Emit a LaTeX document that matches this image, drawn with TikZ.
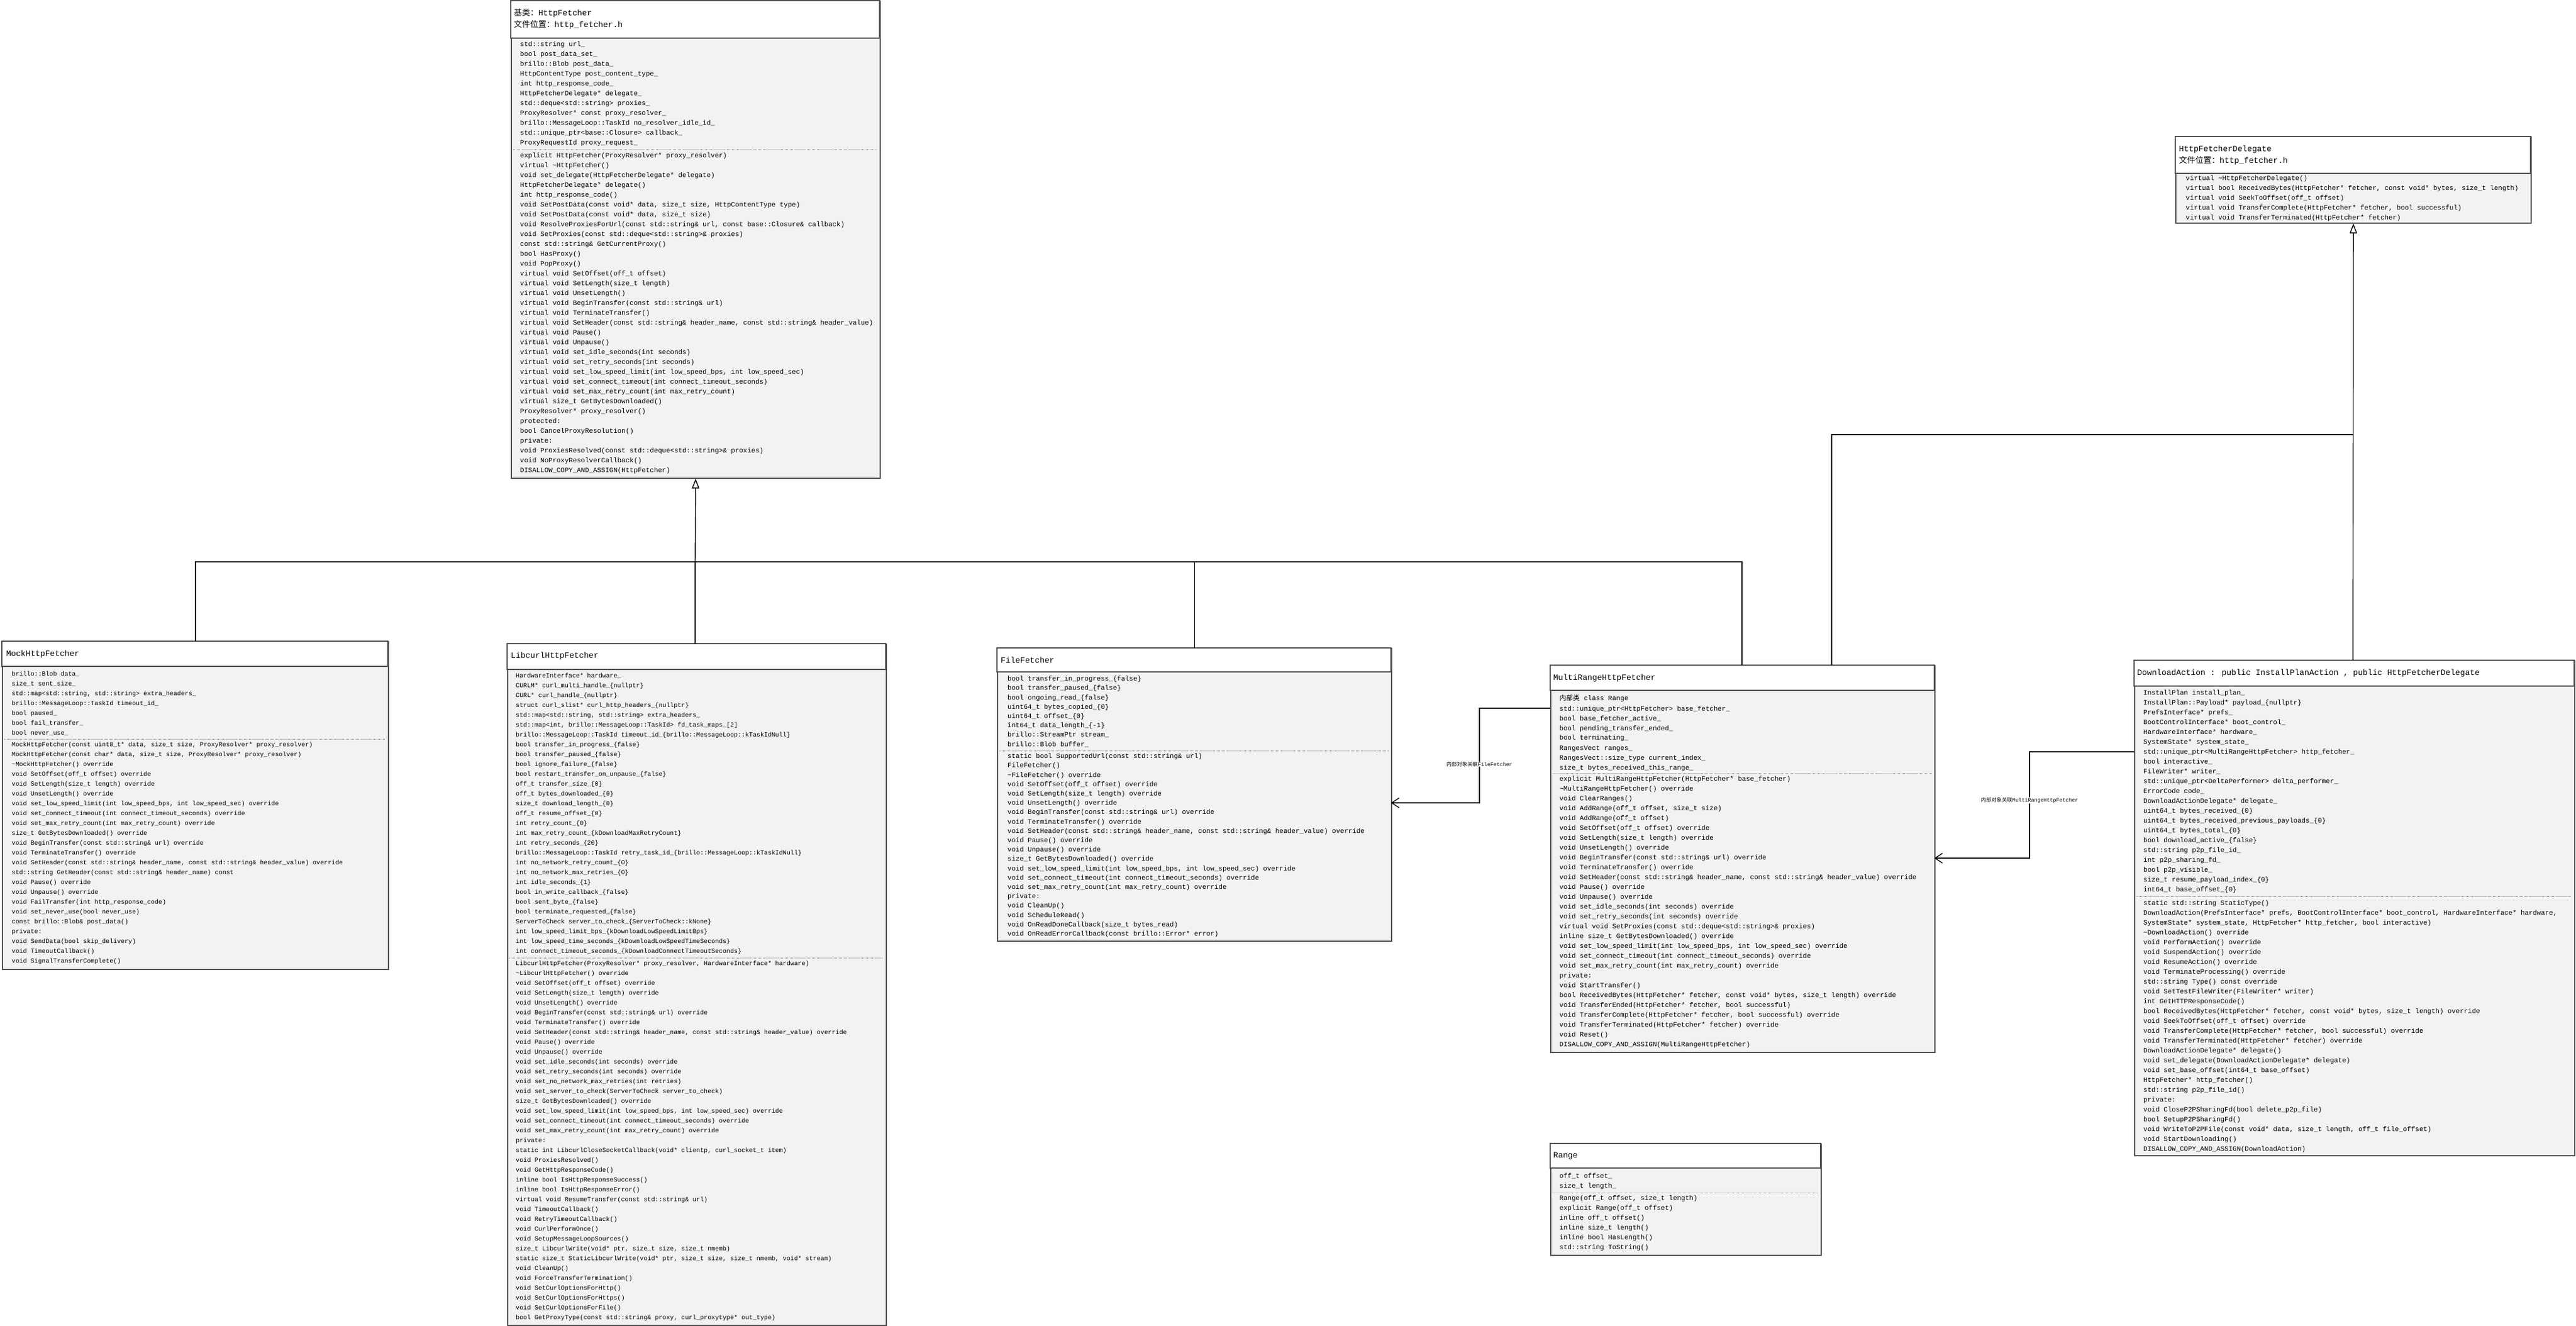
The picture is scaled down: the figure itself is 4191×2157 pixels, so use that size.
\documentclass[tikz,border=0pt]{standalone}
\usepackage{fontspec}
\setmainfont{Liberation Mono}
\newfontfamily\cjk{Noto Sans CJK SC}
\usetikzlibrary{arrows.meta}
\definecolor{boxgrey}{HTML}{F2F2F2}
\definecolor{edge}{HTML}{505050}
\newcommand\zh[1]{{\cjk #1}}
\newcommand\tl{\textasciitilde}
\begin{document}
\catcode`\_=12
\begin{tikzpicture}[x=1pt,y=-1pt,
  boxst/.style={draw=edge,line width=1.6pt,fill=boxgrey,anchor=north west,inner sep=0pt},
  hdr/.style={draw=edge,line width=1.6pt,fill=white},
  sepst/.style={draw=gray,line width=1pt,dash pattern=on 1pt off 1pt},
  txt/.style={anchor=north west,inner sep=0pt,align=left,font=\fontsize{11}{16}\selectfont},
  txtn/.style={anchor=north west,inner sep=0pt,align=left,font=\fontsize{10.2}{16}\selectfont},
  ttl/.style={anchor=west,inner sep=0pt,align=left,font=\fontsize{13.2}{19}\selectfont},
  conn/.style={draw=black,line width=1.4pt},
  inh/.style={conn,-{Triangle[open,length=16pt,width=12pt]}},
  assoc/.style={conn,-{Straight Barb[length=12pt,width=16pt]}},
  lbl/.style={fill=white,inner sep=0.5pt,font=\fontsize{8.5}{10}\selectfont}]
\useasboundingbox (0,0) rectangle (4191,2157);
\fill[white] (0,0) rectangle (4191,2157);

% ---------- HttpFetcher
\node[boxst,minimum width=600pt,minimum height=776pt] (hf) at (831,1) {};
\draw[hdr] (831,1) rectangle (1431,62);
\draw[sepst] (835,243) -- (1427,243);
\node[ttl] (hft) at (836,31) {\zh{基类：}HttpFetcher\\\zh{文件位置：}http_fetcher.h};
\node[txt] (hfa) at (846,67.5) {std::string url_\\bool post_data_set_\\brillo::Blob post_data_\\HttpContentType post_content_type_\\int http_response_code_\\HttpFetcherDelegate* delegate_\\std::deque<std::string> proxies_\\ProxyResolver* const proxy_resolver_\\brillo::MessageLoop::TaskId no_resolver_idle_id_\\std::unique_ptr<base::Closure> callback_\\ProxyRequestId proxy_request_};
\node[txt] (hfm) at (846,248.5) {explicit HttpFetcher(ProxyResolver* proxy_resolver)\\virtual \tl HttpFetcher()\\void set_delegate(HttpFetcherDelegate* delegate)\\HttpFetcherDelegate* delegate()\\int http_response_code()\\void SetPostData(const void* data, size_t size, HttpContentType type)\\void SetPostData(const void* data, size_t size)\\void ResolveProxiesForUrl(const std::string\& url, const base::Closure\& callback)\\void SetProxies(const std::deque<std::string>\& proxies)\\const std::string\& GetCurrentProxy()\\bool HasProxy()\\void PopProxy()\\virtual void SetOffset(off_t offset)\\virtual void SetLength(size_t length)\\virtual void UnsetLength()\\virtual void BeginTransfer(const std::string\& url)\\virtual void TerminateTransfer()\\virtual void SetHeader(const std::string\& header_name, const std::string\& header_value)\\virtual void Pause()\\virtual void Unpause()\\virtual void set_idle_seconds(int seconds)\\virtual void set_retry_seconds(int seconds)\\virtual void set_low_speed_limit(int low_speed_bps, int low_speed_sec)\\virtual void set_connect_timeout(int connect_timeout_seconds)\\virtual void set_max_retry_count(int max_retry_count)\\virtual size_t GetBytesDownloaded()\\ProxyResolver* proxy_resolver()\\protected:\\bool CancelProxyResolution()\\private:\\void ProxiesResolved(const std::deque<std::string>\& proxies)\\void NoProxyResolverCallback()\\DISALLOW_COPY_AND_ASSIGN(HttpFetcher)};

% ---------- HttpFetcherDelegate
\node[boxst,minimum width=578pt,minimum height=140pt] (dg) at (3539,222) {};
\draw[hdr] (3539,222) rectangle (4117,282);
\node[ttl] (dgt) at (3545,253) {HttpFetcherDelegate\\\zh{文件位置：}http_fetcher.h};
\node[txt] (dgm) at (3556,285.5) {virtual \tl HttpFetcherDelegate()\\virtual bool ReceivedBytes(HttpFetcher* fetcher, const void* bytes, size_t length)\\virtual void SeekToOffset(off_t offset)\\virtual void TransferComplete(HttpFetcher* fetcher, bool successful)\\virtual void TransferTerminated(HttpFetcher* fetcher)};

% ---------- MockHttpFetcher
\node[boxst,minimum width=628pt,minimum height=533pt] (mock) at (3,1043) {};
\draw[hdr] (3,1043) rectangle (631,1084);
\draw[sepst] (7,1202) -- (627,1202);
\node[ttl] (mockt) at (10,1064) {MockHttpFetcher};
\node[txtn] (mocka) at (19,1091.5) {brillo::Blob data_\\size_t sent_size_\\std::map<std::string, std::string> extra_headers_\\brillo::MessageLoop::TaskId timeout_id_\\bool paused_\\bool fail_transfer_\\bool never_use_};
\node[txtn] (mockm) at (19,1206.5) {MockHttpFetcher(const uint8_t* data, size_t size, ProxyResolver* proxy_resolver)\\MockHttpFetcher(const char* data, size_t size, ProxyResolver* proxy_resolver)\\\tl MockHttpFetcher() override\\void SetOffset(off_t offset) override\\void SetLength(size_t length) override\\void UnsetLength() override\\void set_low_speed_limit(int low_speed_bps, int low_speed_sec) override\\void set_connect_timeout(int connect_timeout_seconds) override\\void set_max_retry_count(int max_retry_count) override\\size_t GetBytesDownloaded() override\\void BeginTransfer(const std::string\& url) override\\void TerminateTransfer() override\\void SetHeader(const std::string\& header_name, const std::string\& header_value) override\\std::string GetHeader(const std::string\& header_name) const\\void Pause() override\\void Unpause() override\\void FailTransfer(int http_response_code)\\void set_never_use(bool never_use)\\const brillo::Blob\& post_data()\\private:\\void SendData(bool skip_delivery)\\void TimeoutCallback()\\void SignalTransferComplete()};

% ---------- LibcurlHttpFetcher
\node[boxst,minimum width=616pt,minimum height=1108pt] (lc) at (825,1047) {};
\draw[hdr] (825,1047) rectangle (1441,1089);
\draw[sepst] (829,1558) -- (1437,1558);
\node[ttl] (lct) at (831,1067) {LibcurlHttpFetcher};
\node[txtn] (lca) at (839,1094.5) {HardwareInterface* hardware_\\CURLM* curl_multi_handle_\{nullptr\}\\CURL* curl_handle_\{nullptr\}\\struct curl_slist* curl_http_headers_\{nullptr\}\\std::map<std::string, std::string> extra_headers_\\std::map<int, brillo::MessageLoop::TaskId> fd_task_maps_[2]\\brillo::MessageLoop::TaskId timeout_id_\{brillo::MessageLoop::kTaskIdNull\}\\bool transfer_in_progress_\{false\}\\bool transfer_paused_\{false\}\\bool ignore_failure_\{false\}\\bool restart_transfer_on_unpause_\{false\}\\off_t transfer_size_\{0\}\\off_t bytes_downloaded_\{0\}\\size_t download_length_\{0\}\\off_t resume_offset_\{0\}\\int retry_count_\{0\}\\int max_retry_count_\{kDownloadMaxRetryCount\}\\int retry_seconds_\{20\}\\brillo::MessageLoop::TaskId retry_task_id_\{brillo::MessageLoop::kTaskIdNull\}\\int no_network_retry_count_\{0\}\\int no_network_max_retries_\{0\}\\int idle_seconds_\{1\}\\bool in_write_callback_\{false\}\\bool sent_byte_\{false\}\\bool terminate_requested_\{false\}\\ServerToCheck server_to_check_\{ServerToCheck::kNone\}\\int low_speed_limit_bps_\{kDownloadLowSpeedLimitBps\}\\int low_speed_time_seconds_\{kDownloadLowSpeedTimeSeconds\}\\int connect_timeout_seconds_\{kDownloadConnectTimeoutSeconds\}};
\node[txtn] (lcm) at (839,1562.5) {LibcurlHttpFetcher(ProxyResolver* proxy_resolver, HardwareInterface* hardware)\\\tl LibcurlHttpFetcher() override\\void SetOffset(off_t offset) override\\void SetLength(size_t length) override\\void UnsetLength() override\\void BeginTransfer(const std::string\& url) override\\void TerminateTransfer() override\\void SetHeader(const std::string\& header_name, const std::string\& header_value) override\\void Pause() override\\void Unpause() override\\void set_idle_seconds(int seconds) override\\void set_retry_seconds(int seconds) override\\void set_no_network_max_retries(int retries)\\void set_server_to_check(ServerToCheck server_to_check)\\size_t GetBytesDownloaded() override\\void set_low_speed_limit(int low_speed_bps, int low_speed_sec) override\\void set_connect_timeout(int connect_timeout_seconds) override\\void set_max_retry_count(int max_retry_count) override\\private:\\static int LibcurlCloseSocketCallback(void* clientp, curl_socket_t item)\\void ProxiesResolved()\\void GetHttpResponseCode()\\inline bool IsHttpResponseSuccess()\\inline bool IsHttpResponseError()\\virtual void ResumeTransfer(const std::string\& url)\\void TimeoutCallback()\\void RetryTimeoutCallback()\\void CurlPerformOnce()\\void SetupMessageLoopSources()\\size_t LibcurlWrite(void* ptr, size_t size, size_t nmemb)\\static size_t StaticLibcurlWrite(void* ptr, size_t size, size_t nmemb, void* stream)\\void CleanUp()\\void ForceTransferTermination()\\void SetCurlOptionsForHttp()\\void SetCurlOptionsForHttps()\\void SetCurlOptionsForFile()\\bool GetProxyType(const std::string\& proxy, curl_proxytype* out_type)};

% ---------- FileFetcher
\node[boxst,minimum width=641pt,minimum height=476pt] (ff) at (1622,1054) {};
\draw[hdr] (1622,1054) rectangle (2263,1093);
\draw[sepst] (1626,1221) -- (2259,1221);
\node[ttl] (fft) at (1628,1074) {FileFetcher};
\node[txt,font=\fontsize{11}{15.2}\selectfont] (ffa) at (1639,1099.5) {bool transfer_in_progress_\{false\}\\bool transfer_paused_\{false\}\\bool ongoing_read_\{false\}\\uint64_t bytes_copied_\{0\}\\uint64_t offset_\{0\}\\int64_t data_length_\{-1\}\\brillo::StreamPtr stream_\\brillo::Blob buffer_};
\node[txt,font=\fontsize{11}{15.2}\selectfont] (ffm) at (1639,1225.5) {static bool SupportedUrl(const std::string\& url)\\FileFetcher()\\\tl FileFetcher() override\\void SetOffset(off_t offset) override\\void SetLength(size_t length) override\\void UnsetLength() override\\void BeginTransfer(const std::string\& url) override\\void TerminateTransfer() override\\void SetHeader(const std::string\& header_name, const std::string\& header_value) override\\void Pause() override\\void Unpause() override\\size_t GetBytesDownloaded() override\\void set_low_speed_limit(int low_speed_bps, int low_speed_sec) override\\void set_connect_timeout(int connect_timeout_seconds) override\\void set_max_retry_count(int max_retry_count) override\\private:\\void CleanUp()\\void ScheduleRead()\\void OnReadDoneCallback(size_t bytes_read)\\void OnReadErrorCallback(const brillo::Error* error)};

% ---------- MultiRangeHttpFetcher
\node[boxst,minimum width=625pt,minimum height=629pt] (mr) at (2522,1082) {};
\draw[hdr] (2522,1082) rectangle (3147,1123);
\draw[sepst] (2526,1258) -- (3143,1258);
\node[ttl] (mrt) at (2527,1103) {MultiRangeHttpFetcher};
\node[txt] (mra) at (2537,1130.5) {\zh{内部类} class Range\\std::unique_ptr<HttpFetcher> base_fetcher_\\bool base_fetcher_active_\\bool pending_transfer_ended_\\bool terminating_\\RangesVect ranges_\\RangesVect::size_type current_index_\\size_t bytes_received_this_range_};
\node[txt] (mrm) at (2537,1262.5) {explicit MultiRangeHttpFetcher(HttpFetcher* base_fetcher)\\\tl MultiRangeHttpFetcher() override\\void ClearRanges()\\void AddRange(off_t offset, size_t size)\\void AddRange(off_t offset)\\void SetOffset(off_t offset) override\\void SetLength(size_t length) override\\void UnsetLength() override\\void BeginTransfer(const std::string\& url) override\\void TerminateTransfer() override\\void SetHeader(const std::string\& header_name, const std::string\& header_value) override\\void Pause() override\\void Unpause() override\\void set_idle_seconds(int seconds) override\\void set_retry_seconds(int seconds) override\\virtual void SetProxies(const std::deque<std::string>\& proxies)\\inline size_t GetBytesDownloaded() override\\void set_low_speed_limit(int low_speed_bps, int low_speed_sec) override\\void set_connect_timeout(int connect_timeout_seconds) override\\void set_max_retry_count(int max_retry_count) override\\private:\\void StartTransfer()\\bool ReceivedBytes(HttpFetcher* fetcher, const void* bytes, size_t length) override\\void TransferEnded(HttpFetcher* fetcher, bool successful)\\void TransferComplete(HttpFetcher* fetcher, bool successful) override\\void TransferTerminated(HttpFetcher* fetcher) override\\void Reset()\\DISALLOW_COPY_AND_ASSIGN(MultiRangeHttpFetcher)};

% ---------- Range
\node[boxst,minimum width=440pt,minimum height=181pt] (rg) at (2522,1860) {};
\draw[hdr] (2522,1860) rectangle (2962,1900);
\draw[sepst] (2526,1940) -- (2958,1940);
\node[ttl] (rgt) at (2527,1880) {Range};
\node[txt] (rga) at (2537,1908.5) {off_t offset_\\size_t length_};
\node[txt] (rgm) at (2537,1944.5) {Range(off_t offset, size_t length)\\explicit Range(off_t offset)\\inline off_t offset()\\inline size_t length()\\inline bool HasLength()\\std::string ToString()};

% ---------- DownloadAction
\node[boxst,minimum width=716pt,minimum height=805pt] (da) at (3472,1074) {};
\draw[hdr] (3472,1074) rectangle (4188,1116);
\draw[sepst] (3476,1458) -- (4184,1458);
\node[ttl] (dat) at (3477,1095) {DownloadAction : public InstallPlanAction , public HttpFetcherDelegate};
\node[txt] (daa) at (3487,1122.5) {InstallPlan install_plan_\\InstallPlan::Payload* payload_\{nullptr\}\\PrefsInterface* prefs_\\BootControlInterface* boot_control_\\HardwareInterface* hardware_\\SystemState* system_state_\\std::unique_ptr<MultiRangeHttpFetcher> http_fetcher_\\bool interactive_\\FileWriter* writer_\\std::unique_ptr<DeltaPerformer> delta_performer_\\ErrorCode code_\\DownloadActionDelegate* delegate_\\uint64_t bytes_received_\{0\}\\uint64_t bytes_received_previous_payloads_\{0\}\\uint64_t bytes_total_\{0\}\\bool download_active_\{false\}\\std::string p2p_file_id_\\int p2p_sharing_fd_\\bool p2p_visible_\\size_t resume_payload_index_\{0\}\\int64_t base_offset_\{0\}};
\node[txt] (dam) at (3487,1464.5) {static std::string StaticType()\\DownloadAction(PrefsInterface* prefs, BootControlInterface* boot_control, HardwareInterface* hardware,\\SystemState* system_state, HttpFetcher* http_fetcher, bool interactive)\\\tl DownloadAction() override\\void PerformAction() override\\void SuspendAction() override\\void ResumeAction() override\\void TerminateProcessing() override\\std::string Type() const override\\void SetTestFileWriter(FileWriter* writer)\\int GetHTTPResponseCode()\\bool ReceivedBytes(HttpFetcher* fetcher, const void* bytes, size_t length) override\\void SeekToOffset(off_t offset) override\\void TransferComplete(HttpFetcher* fetcher, bool successful) override\\void TransferTerminated(HttpFetcher* fetcher) override\\DownloadActionDelegate* delegate()\\void set_delegate(DownloadActionDelegate* delegate)\\void set_base_offset(int64_t base_offset)\\HttpFetcher* http_fetcher()\\std::string p2p_file_id()\\private:\\void CloseP2PSharingFd(bool delete_p2p_file)\\bool SetupP2PSharingFd()\\void WriteToP2PFile(const void* data, size_t length, off_t file_offset)\\void StartDownloading()\\DISALLOW_COPY_AND_ASSIGN(DownloadAction)};

% ---------- inheritance from HttpFetcher
\coordinate (bus) at (1131,914);
\coordinate (mrtop) at (2834,1082);
\draw[conn] (mock.north) |- (bus);
\draw[conn] (ff.north) |- (bus);
\draw[conn] (mrtop) |- (bus);
\draw[conn] (lc.north -| bus) -- (bus);
\draw[inh] (bus) -- (hf.south);

% ---------- inheritance from HttpFetcherDelegate
\coordinate (dj) at (3828,707);
\coordinate (mrtop2) at (2980,1082);
\draw[conn] (mrtop2) |- (dj);
\draw[inh] (da.north -| dj) -- (dg.south);

% ---------- associations
\coordinate (a1s) at (2522,1152);
\coordinate (a1m) at (2407,1243);
\coordinate (a1e) at (2263,1306);
\draw[assoc] (a1s) -| (a1m) |- (a1e);
\node[lbl] (l1) at (a1m) {\zh{内部对象关联}FileFetcher};
\coordinate (a2s) at (3472,1223);
\coordinate (a2m) at (3302,1302);
\coordinate (a2e) at (3147,1396);
\draw[assoc] (a2s) -| (a2m) |- (a2e);
\node[lbl] (l2) at (a2m) {\zh{内部对象关联}MultiRangeHttpFetcher};
\end{tikzpicture}
\end{document}
